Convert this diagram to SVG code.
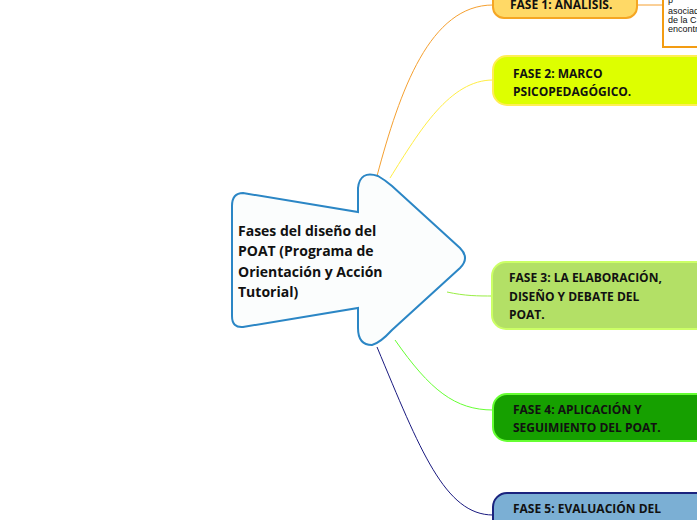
<svg xmlns="http://www.w3.org/2000/svg" width="697" height="520" viewBox="0 0 697 520">
<style>
text{font-family:"Open Sans","DejaVu Sans",sans-serif;font-weight:bold;font-size:12px;fill:#111}
.big{font-size:14px}
.c{fill:none;stroke-width:1}
.n{stroke-width:2}
.note{font-family:"Liberation Sans",Arial,sans-serif;font-weight:normal;font-size:9px}
</style>
<rect width="697" height="520" fill="#fff"/>
<g id="connectors">
<path class="c" stroke="#f5a030" d="M377,176 C400,90 430,5 493,5"/>
<path class="c" stroke="#ffee44" d="M390,178 C420,130 450,80 493,80"/>
<path class="c" stroke="#99ee44" d="M447,292 C465,296 478,296 493,296"/>
<path class="c" stroke="#66ff33" d="M395,340 C430,390 455,410 493,410"/>
<path class="c" stroke="#1a1a80" d="M377,347 C420,450 445,515 493,515"/>
<path class="c" stroke="#f5a030" d="M637,5 L663,5"/>
</g>
<g id="center">
<path d="M243,193 L358,212 L358,188 Q360,170 378,176 Q385,180 392,186 L460,248 Q470,258 460,268 L392,330 Q380,343 372,345 Q358,345 358,328 L358,308 L243,327 Q232,328 232,316 L232,206 Q232,193 243,193 Z" fill="#fbfdfd" stroke="#2b86c5" stroke-width="2"/>
<text class="big" x="238" y="236">Fases del diseño del</text>
<text class="big" x="238" y="256">POAT (Programa de</text>
<text class="big" x="238" y="277">Orientación y Acción</text>
<text class="big" x="238" y="297">Tutorial)</text>
</g>
<g id="fase1">
<rect class="n" x="493" y="-15" width="144" height="33" rx="11" fill="#ffd966" stroke="#f5a623"/>
<text x="510" y="9">FASE 1: ANÁLISIS.</text>
</g>
<g id="note">
<rect x="663" y="-5" width="50" height="52" fill="#fff" stroke="#f39c12" stroke-width="2"/>
<text class="note" x="668" y="3">p</text>
<text class="note" x="668" y="14">asociad</text>
<text class="note" x="668" y="23">de la C</text>
<text class="note" x="668" y="32">encontr</text>
</g>
<g id="fase2">
<rect class="n" x="493" y="56" width="220" height="49" rx="14" fill="#ddff00" stroke="#ffee55"/>
<text x="513" y="78">FASE 2: MARCO</text>
<text x="513" y="96">PSICOPEDAGÓGICO.</text>
</g>
<g id="fase3">
<rect class="n" x="492" y="262" width="220" height="67" rx="14" fill="#b3e066" stroke="#ccff66"/>
<text x="509" y="282">FASE 3: LA ELABORACIÓN,</text>
<text x="509" y="301">DISEÑO Y DEBATE DEL</text>
<text x="509" y="319">POAT.</text>
</g>
<g id="fase4">
<rect class="n" x="493" y="394" width="220" height="47" rx="14" fill="#16a000" stroke="#66ff33"/>
<text x="513" y="414">FASE 4: APLICACIÓN Y</text>
<text x="513" y="432">SEGUIMIENTO DEL POAT.</text>
</g>
<g id="fase5">
<rect class="n" x="493" y="493" width="220" height="50" rx="14" fill="#7bafd4" stroke="#1a237e"/>
<text x="513" y="513">FASE 5: EVALUACIÓN DEL</text>
</g>
</svg>
